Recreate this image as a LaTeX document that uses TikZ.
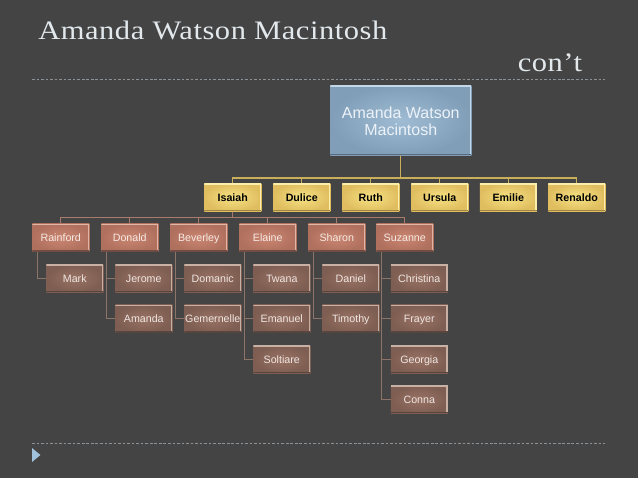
\documentclass[tikz,border=0pt]{standalone}
\usepackage{fontspec}
\setmainfont{Liberation Sans}
\newfontfamily\titlefont[FakeStretch=1.145,LetterSpace=2]{Liberation Serif}
\usetikzlibrary{calc}
\definecolor{bgc}{HTML}{444444}
\definecolor{dashc}{HTML}{8A9298}
\definecolor{yellowline}{HTML}{C9AE5C}
\definecolor{redline}{HTML}{A87C6C}
\definecolor{kidline}{HTML}{8C7468}
\definecolor{rootin}{RGB}{160,188,212}
\definecolor{rootout}{RGB}{128,158,184}
\definecolor{roottext}{RGB}{236,242,248}
\definecolor{roothi}{RGB}{196,216,232}
\definecolor{rootlo}{RGB}{90,106,124}
\definecolor{yelin}{RGB}{246,226,130}
\definecolor{yelout}{RGB}{224,190,96}
\definecolor{yelhi}{RGB}{250,238,170}
\definecolor{yello}{RGB}{160,134,70}
\definecolor{redin}{RGB}{202,134,114}
\definecolor{redout}{RGB}{176,112,94}
\definecolor{redtext}{RGB}{246,234,228}
\definecolor{redhi}{RGB}{226,182,166}
\definecolor{redlo}{RGB}{112,76,66}
\definecolor{kidin}{RGB}{152,114,100}
\definecolor{kidout}{RGB}{126,94,82}
\definecolor{kidtext}{RGB}{238,230,226}
\definecolor{kidhi}{RGB}{200,176,164}
\definecolor{kidlo}{RGB}{88,70,62}
\definecolor{titlec}{RGB}{226,232,236}
\definecolor{triac}{RGB}{160,194,220}
\tikzset{
  x=0.75pt,y=-0.75pt,
  bevel/.style 2 args={path picture={
    \fill[#1] (path picture bounding box.north west) rectangle ([yshift=-1.1pt]path picture bounding box.north east);
    \fill[#1] ([xshift=-1pt]path picture bounding box.north east) rectangle (path picture bounding box.south east);
    \fill[#2] (path picture bounding box.south west) rectangle ([yshift=1pt]path picture bounding box.south east);
  }},
  boxbase/.style={rectangle,inner sep=0pt,align=center,anchor=north west,
    minimum width=42.75pt,minimum height=21pt},
  smalltext/.style={text height=5.8pt,text depth=.2pt},
  rootbox/.style={boxbase,minimum width=105.75pt,minimum height=52.5pt,
    inner color=rootin,outer color=rootout,
    text=roottext,font=\fontsize{12}{13}\selectfont,
    bevel={roothi}{rootlo}},
  yelbox/.style={boxbase,smalltext,
    inner color=yelin,outer color=yelout,
    text=black,font=\fontsize{8}{9}\selectfont\bfseries,
    bevel={yelhi}{yello}},
  redbox/.style={boxbase,smalltext,
    inner color=redin,outer color=redout,
    text=redtext,font=\fontsize{8}{9}\selectfont,
    bevel={redhi}{redlo}},
  kidbox/.style={boxbase,smalltext,
    inner color=kidin,outer color=kidout,
    text=kidtext,font=\fontsize{8}{9}\selectfont,
    bevel={kidhi}{kidlo}},
  busy/.style={draw=yellowline,line width=1pt},
  busr/.style={draw=redline,line width=.8pt},
  busk/.style={draw=kidline,line width=.8pt},
  rule/.style={draw=dashc,line width=.5pt,dash pattern=on 2pt off 1.4pt},
  titletext/.style={anchor=base west,inner sep=0pt,text=titlec,font=\titlefont\fontsize{20}{22}\selectfont}
}
\begin{document}
\begin{tikzpicture}
\useasboundingbox (0,0) rectangle (638,478);
\fill[bgc] (0,0) rectangle (638,478);

\node[titletext] (title) at (38,40) {Amanda Watson Macintosh};
\node[titletext] (cont) at (517.5,71) {con’t};
\coordinate (ra) at (32,79.5); \coordinate (rb) at (605,79.5);
\coordinate (rc) at (32,443); \coordinate (rd) at (605,443);
\draw[rule] (ra) -- (rb);
\draw[rule] (rc) -- (rd);
\coordinate (ta) at (32,448); \coordinate (tb) at (40.5,455); \coordinate (tc) at (32,462);
\fill[triac] (ta) -- (tb) -- (tc) -- cycle;

\node[rootbox] (root) at (330,85) {\rule{0pt}{9.8pt}Amanda Watson\\Macintosh};

\foreach \n/\x/\t in {isaiah/204/Isaiah,dulice/273/Dulice,ruth/342/Ruth,ursula/411/Ursula,emilie/479.5/Emilie,renaldo/548/Renaldo}
  \node[yelbox] (\n) at (\x,183) {\t};

\foreach \n/\x/\t in {rainford/32/Rainford,donald/101/Donald,beverley/170/Beverley,elaine/239/Elaine,sharon/308/Sharon,suzanne/376/Suzanne}
  \node[redbox] (\n) at (\x,223.5) {\t};

\foreach \n/\x/\y/\t in {mark/46/264/Mark,
  jerome/115/264/Jerome,amanda/115/304.5/Amanda,
  domanic/184/264/Domanic,gemernelle/184/304.5/Gemernelle,
  twana/253/264/Twana,emanuel/253/304.5/Emanuel,soltiare/253/345/Soltiare,
  daniel/322/264/Daniel,timothy/322/304.5/Timothy,
  christina/390.5/264/Christina,frayer/390.5/304.5/Frayer,georgia/390.5/345/Georgia,conna/390.5/385/Conna}
  \node[kidbox] (\n) at (\x,\y) {\t};

\foreach \n in {isaiah,dulice,ruth,ursula,emilie,renaldo}
  \draw[busy] (root.south) -- ($(root.south)+(0,22.5)$) -| (\n.north);
\foreach \n in {rainford,donald,beverley,elaine,sharon,suzanne}
  \draw[busr] (isaiah.south) -- ($(isaiah.south)+(0,6)$) -| (\n.north);
\foreach \p/\c in {rainford/mark,donald/jerome,donald/amanda,beverley/domanic,beverley/gemernelle,
  elaine/twana,elaine/emanuel,elaine/soltiare,sharon/daniel,sharon/timothy,
  suzanne/christina,suzanne/frayer,suzanne/georgia,suzanne/conna}
  \draw[busk] ($(\p.south west)+(5.5,0)$) |- (\c.west);
\end{tikzpicture}
\end{document}
